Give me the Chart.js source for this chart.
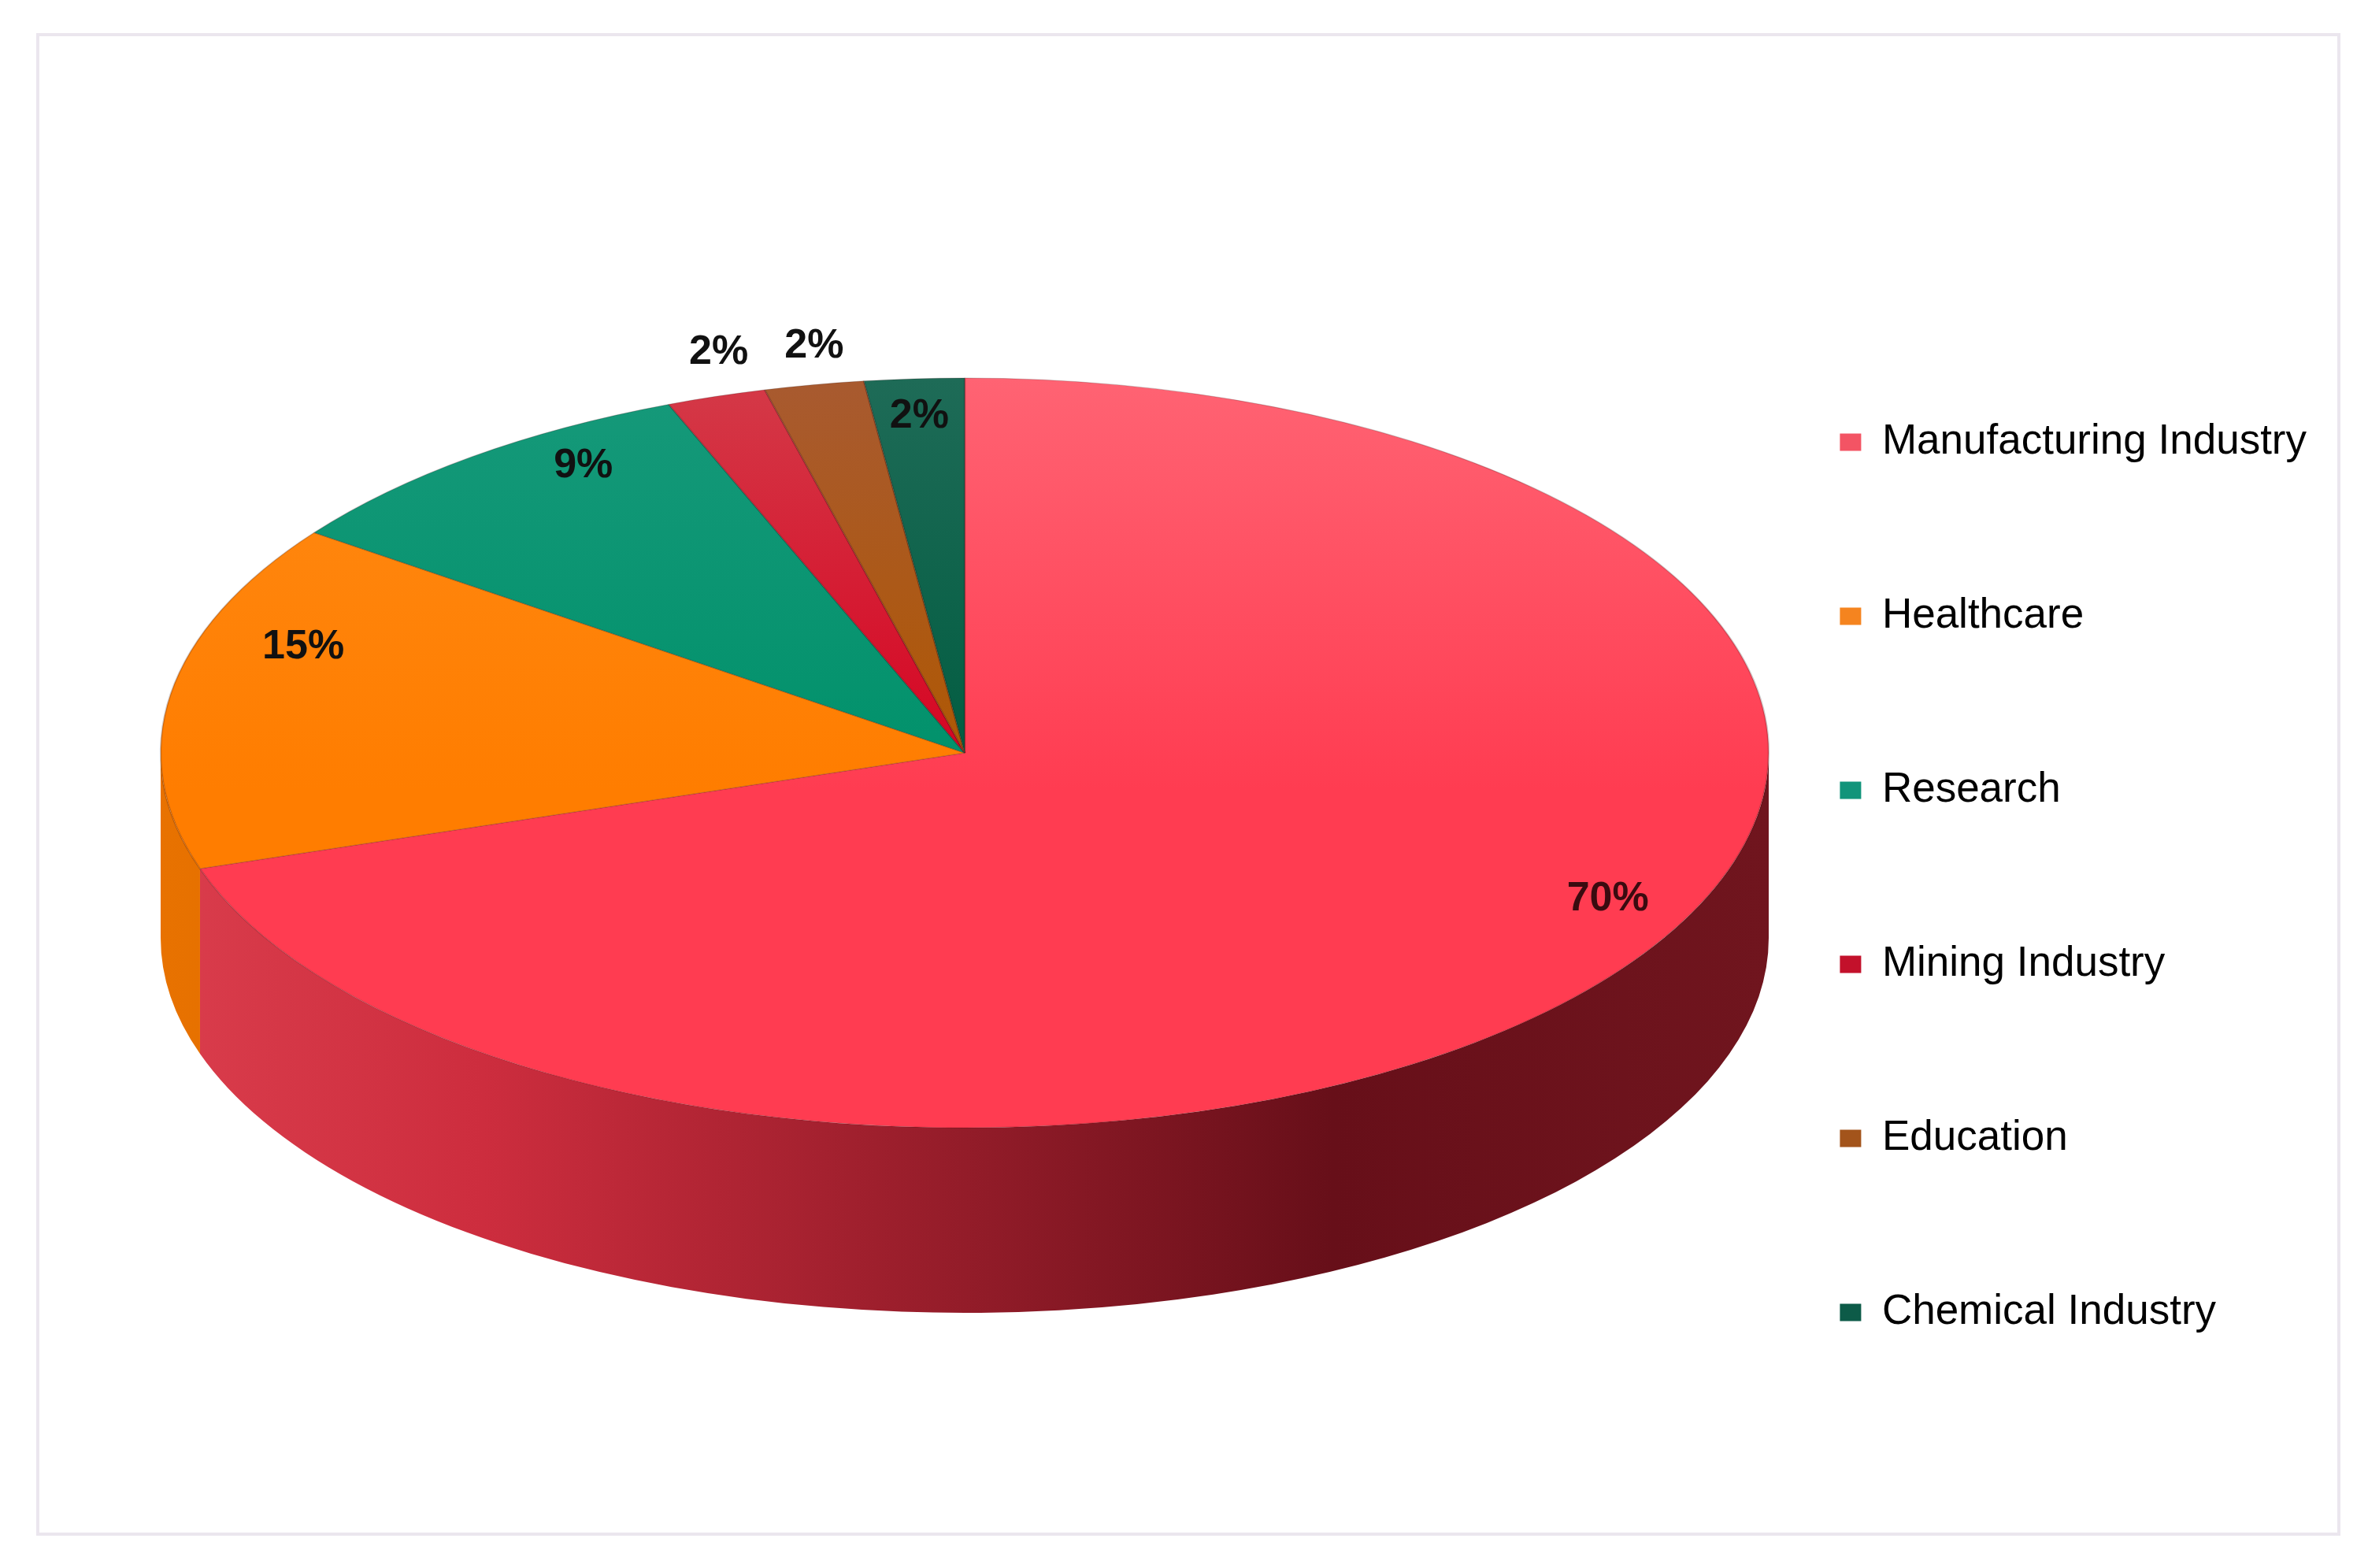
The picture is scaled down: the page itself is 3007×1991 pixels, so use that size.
<!DOCTYPE html>
<html lang="en">
<head>
  <meta charset="UTF-8">
  <title>Sector distribution</title>
  <script src="https://cdn.jsdelivr.net/npm/chart.js"></script>
  <style>
    html, body { margin: 0; padding: 0; background: #fff; overflow: hidden; }
    #wrap { width: 3007px; height: 1991px; position: relative; }
  </style>
</head>
<body>
  <div id="wrap"><canvas id="pie"></canvas></div>

  <script>
    // data
    const categories = ['Manufacturing Industry', 'Healthcare', 'Research', 'Mining Industry', 'Education', 'Chemical Industry'];
    const shares = [70, 15, 9, 2, 2, 2];

    // colours: top face (light at the back -> base), legend keys, side wall
    const topLight = ['#ff6373', '#ff8a14', '#16997a', '#d43a48', '#a85a30', '#1e6b57'];
    const topBase = ['#ff3c51', '#ff7d00', '#00916a', '#d6001f', '#b05800', '#005c40'];
    const keyColors = ['#f35464', '#f5841f', '#11947a', '#c3112b', '#a3541b', '#0d5b48'];
    const sideColors = [
      ['#da3d4c', '#cd2d3e', '#670f19', '#70151e'],
      ['#e87200', '#dc6a00', '#7a3a00', '#854000'],
      ['#0a8a62', '#07825c', '#024a33', '#05503a'],
      ['#c8102c', '#bc0e28', '#6a0814', '#720a18'],
      ['#a05000', '#984c00', '#582c00', '#5e3000'],
      ['#005a3c', '#005538', '#003020', '#003424']
    ];
    const labelColors = ['#3a0b10', '#111', '#111', '#111', '#111', '#111'];

    // tilted pie geometry on the page
    const PIE = { cx: 1225, cy: 956, rx: 1021, ry: 476, depth: 235 };
    // label placement, relative to each slice (radius fraction, angle nudge in degrees)
    const labelRadius = [0.89, 0.87, 0.9, 1.11, 1.1, 0.9];
    const labelNudge = [-10, 10, 6, 2, 1, 0];

    const total = shares.reduce((a, b) => a + b, 0);

    const pie3d = {
      id: 'pie3d',
      beforeDraw(chart) {
        const ctx = chart.ctx;
        ctx.save();
        ctx.strokeStyle = '#ebe6ee';
        ctx.lineWidth = 4;
        ctx.strokeRect(48, 44, 2922, 1904);
        ctx.restore();
      },
      beforeDatasetsDraw(chart) {
        const ctx = chart.ctx;
        const arcs = chart.getDatasetMeta(0).data;
        // side wall, only the front half is visible
        arcs.forEach((arc, i) => {
          const a = Math.max(arc.startAngle, 0);
          const b = Math.min(arc.endAngle, Math.PI);
          if (b <= a) return;
          const g = ctx.createLinearGradient(PIE.cx - PIE.rx, 0, PIE.cx + PIE.rx, 0);
          const s = sideColors[i];
          g.addColorStop(0, s[0]);
          g.addColorStop(0.2, s[1]);
          g.addColorStop(0.73, s[2]);
          g.addColorStop(1, s[3]);
          ctx.save();
          ctx.fillStyle = g;
          ctx.beginPath();
          ctx.ellipse(PIE.cx, PIE.cy, PIE.rx, PIE.ry, 0, a, b, false);
          ctx.ellipse(PIE.cx, PIE.cy + PIE.depth, PIE.rx, PIE.ry, 0, b, a, true);
          ctx.closePath();
          ctx.fill();
          ctx.restore();
        });
        // squash the pie into the top face
        const first = arcs[0];
        const R = first.outerRadius;
        ctx.save();
        ctx.translate(PIE.cx, PIE.cy);
        ctx.scale(PIE.rx / R, PIE.ry / R);
        ctx.translate(-first.x, -first.y);
      },
      afterDatasetsDraw(chart) {
        const ctx = chart.ctx;
        ctx.restore();
        const arcs = chart.getDatasetMeta(0).data;
        ctx.save();
        ctx.font = "bold 52px 'Liberation Sans', Arial, sans-serif";
        ctx.textAlign = 'center';
        ctx.textBaseline = 'middle';
        arcs.forEach((arc, i) => {
          const mid = (arc.startAngle + arc.endAngle) / 2 + labelNudge[i] * Math.PI / 180;
          const x = PIE.cx + PIE.rx * labelRadius[i] * Math.cos(mid);
          const y = PIE.cy + PIE.ry * labelRadius[i] * Math.sin(mid);
          ctx.fillStyle = labelColors[i];
          ctx.fillText(Math.round(shares[i] / total * 100) + '%', x, y);
        });
        ctx.restore();
      }
    };

    const chart = new Chart(document.getElementById('pie'), {
      type: 'pie',
      data: {
        labels: categories,
        datasets: [{
          data: shares,
          backgroundColor: (c) => {
            const i = c.dataIndex;
            const area = c.chart.chartArea;
            if (i === undefined) return topBase[0];
            if (!area) return topBase[i];
            const g = c.chart.ctx.createLinearGradient(0, area.top, 0, area.bottom);
            g.addColorStop(0, topLight[i]);
            g.addColorStop(0.55, topBase[i]);
            g.addColorStop(1, topBase[i]);
            return g;
          },
          borderColor: 'rgba(40, 10, 10, 0.22)',
          borderWidth: 2,
          hoverOffset: 0
        }]
      },
      options: {
        responsive: true,
        maintainAspectRatio: false,
        animation: false,
        layout: { padding: { top: 237, right: 68, bottom: 0, left: 0 } },
        plugins: {
          tooltip: { enabled: false },
          legend: {
            position: 'right',
            labels: {
              boxWidth: 27,
              boxHeight: 22,
              padding: 168,
              color: '#222',
              font: { family: "'Liberation Sans', Arial, sans-serif", size: 53 },
              generateLabels: () => categories.map((t, i) => ({
                text: t,
                fillStyle: keyColors[i],
                strokeStyle: keyColors[i],
                lineWidth: 0,
                hidden: false,
                index: i
              }))
            }
          }
        }
      },
      plugins: [pie3d]
    });
  </script>
</body>
</html>
